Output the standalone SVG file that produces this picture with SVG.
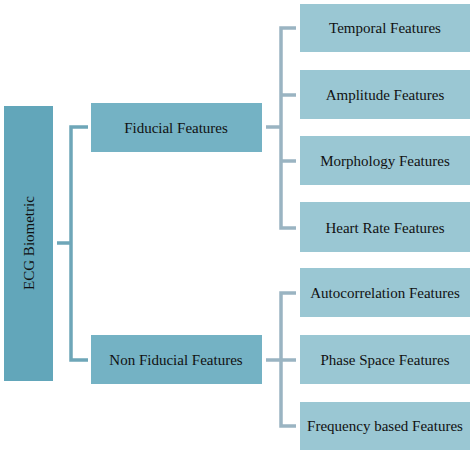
<svg xmlns="http://www.w3.org/2000/svg" width="474" height="454" viewBox="0 0 474 454">
<style>
.root{fill:#62a6ba}
.mid{fill:#74b2c4}
.leaf{fill:#9ac7d3}
.lineA{stroke:#6ea6b8;stroke-width:3.5;fill:none}
.lineB{stroke:#9ab4c2;stroke-width:3.5;fill:none}
text{font-family:"Liberation Serif","Times New Roman",serif;font-size:15px;fill:#111;text-anchor:middle;dominant-baseline:central}
</style>
<rect width="474" height="454" fill="#fff"/>
<g id="connectors">
<path class="lineA" d="M57 243H71M88 127H71V360H88"/>
<path class="lineB" d="M266 127H281M296 28H281V228H296M281 95H296M281 161H296"/>
<path class="lineB" d="M266 360H296M296 293H281V426H296"/>
</g>
<g id="root"><rect class="root" x="4" y="106" width="49" height="275"/><text transform="translate(29,243) rotate(-90)">ECG Biometric</text></g>
<g id="fiducial"><rect class="mid" x="91" y="103" width="171" height="49"/><text x="176" y="128">Fiducial Features</text></g>
<g id="nonfiducial"><rect class="mid" x="91" y="335" width="171" height="49"/><text x="176" y="360">Non Fiducial Features</text></g>
<g id="temporal"><rect class="leaf" x="300" y="4" width="170" height="48"/><text x="385" y="28">Temporal Features</text></g>
<g id="amplitude"><rect class="leaf" x="300" y="70" width="170" height="49"/><text x="385" y="95">Amplitude Features</text></g>
<g id="morphology"><rect class="leaf" x="300" y="136" width="170" height="49"/><text x="385" y="161">Morphology Features</text></g>
<g id="heartrate"><rect class="leaf" x="300" y="202" width="170" height="50"/><text x="385" y="228">Heart Rate Features</text></g>
<g id="autocorrelation"><rect class="leaf" x="300" y="268" width="170" height="49"/><text x="385" y="293">Autocorrelation Features</text></g>
<g id="phasespace"><rect class="leaf" x="300" y="335" width="170" height="49"/><text x="385" y="360">Phase Space Features</text></g>
<g id="frequency"><rect class="leaf" x="300" y="402" width="170" height="48"/><text x="385" y="426">Frequency based Features</text></g>
</svg>
